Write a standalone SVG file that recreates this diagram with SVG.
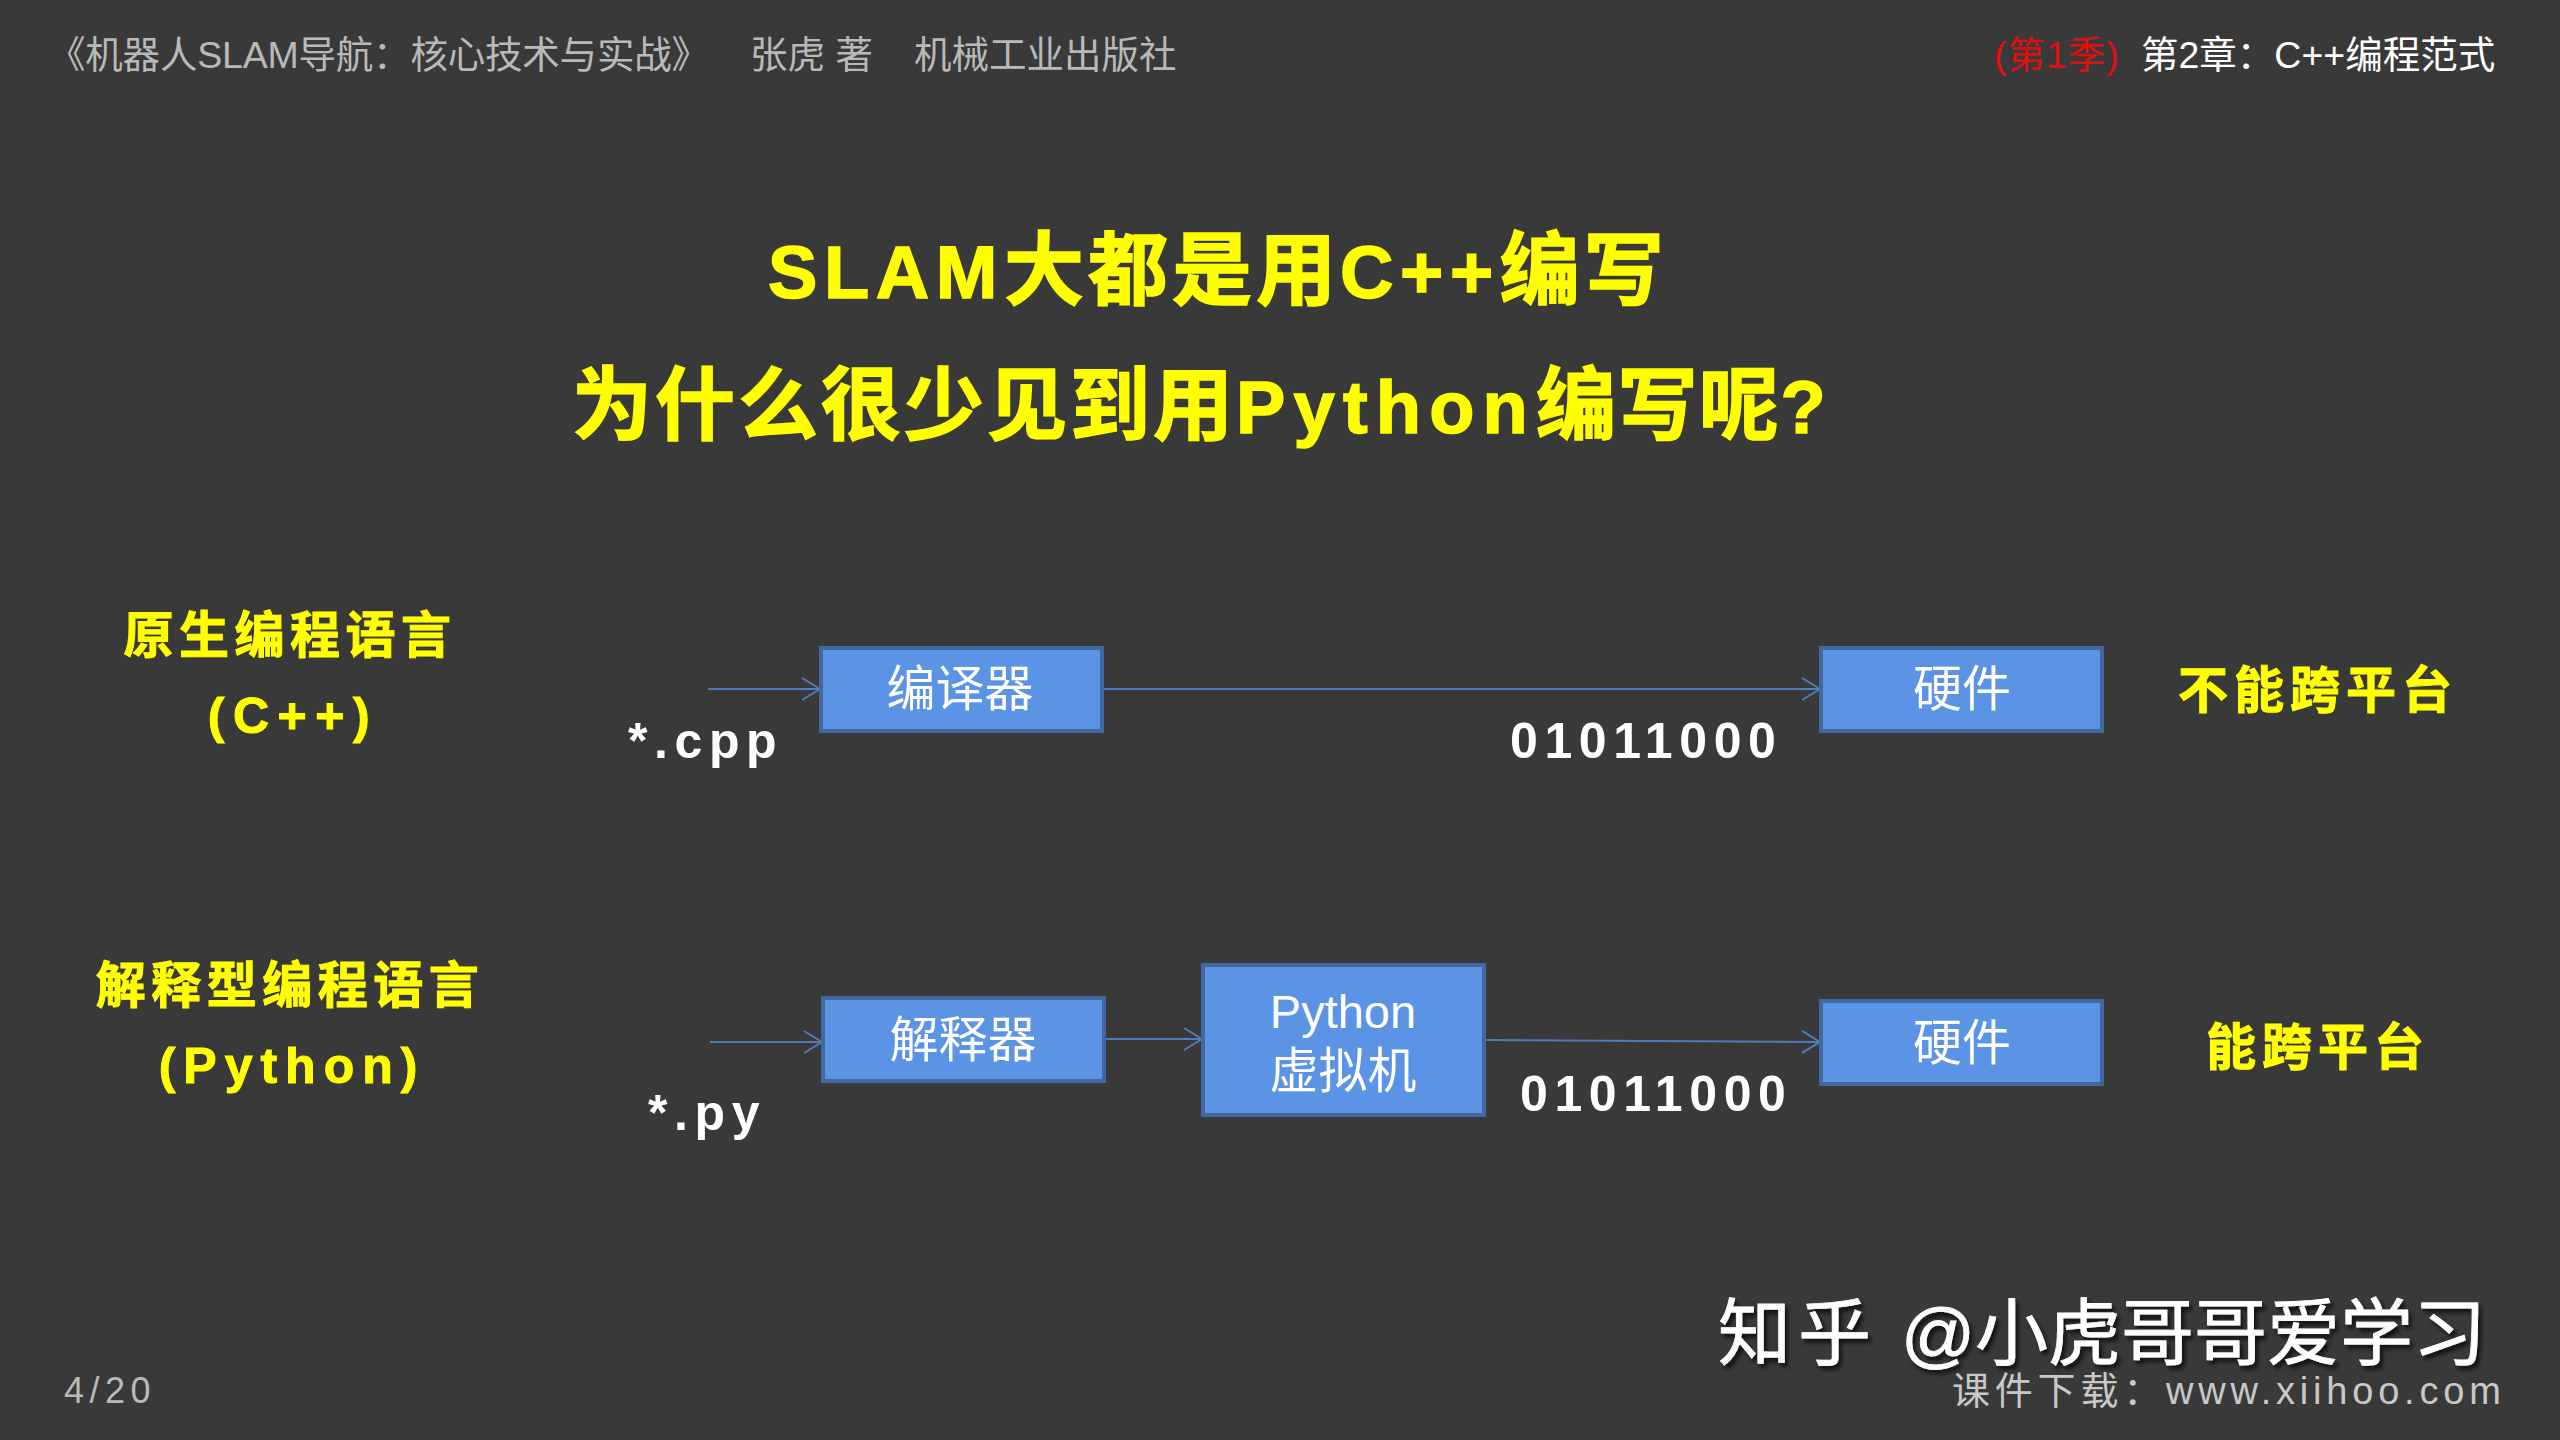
<svg xmlns="http://www.w3.org/2000/svg" width="2560" height="1440" viewBox="0 0 2560 1440">
<style>
text{font-family:"Liberation Sans","Noto Sans CJK SC",sans-serif}
.hd{font-size:37.5px}
.ti{font-size:80px;font-weight:700;fill:#ff0;stroke:#ff0;stroke-width:1.5px;letter-spacing:4px}
.ti .l{font-size:74px;letter-spacing:6.6px}
.la{font-size:50px;font-weight:700;fill:#ff0;stroke:#ff0;stroke-width:1px;letter-spacing:5.5px;text-anchor:middle}
.nd{fill:#5b93e5;stroke:#41689f;stroke-width:4}
.nt{font-size:49px;fill:#fff;text-anchor:middle}
.co{font-size:50px;font-weight:700;fill:#fff;letter-spacing:6.6px}
.cn{fill:none;stroke:#4f7cb8;stroke-width:2}
</style>
<defs>
<marker id="ah" markerUnits="userSpaceOnUse" markerWidth="24" markerHeight="28" refX="20" refY="12" orient="auto" viewBox="0 0 24 24"><path d="M2 1L20 12L2 23" fill="none" stroke="#4f7cb8" stroke-width="2"/></marker>
<filter id="sh" x="-5%" y="-10%" width="110%" height="130%"><feDropShadow dx="3" dy="4" stdDeviation="2" flood-color="#000" flood-opacity=".7"/></filter>
</defs>
<rect width="2560" height="1440" fill="#393939"/>
<text class="hd" x="48" y="68" fill="#b9b9b9" letter-spacing="-.2">《机器人SLAM导航：核心技术与实战》</text>
<text class="hd" x="750" y="68" fill="#b9b9b9">张虎 著</text>
<text class="hd" x="914" y="68" fill="#b9b9b9">机械工业出版社</text>
<text class="hd" x="1994" y="68" fill="#e01010" letter-spacing="1">(第1季)</text>
<text class="hd" x="2141" y="68" fill="#fff">第2章：C++编程范式</text>
<text class="ti" x="768" y="298"><tspan class="l">SLAM</tspan>大都是用<tspan class="l">C++</tspan>编写</text>
<text class="ti" x="572" y="433" style="letter-spacing:3px">为什么很少见到用<tspan class="l" style="letter-spacing:8.2px">Python</tspan><tspan style="letter-spacing:1.5px">编写呢</tspan><tspan class="l">?</tspan></text>
<text class="la" x="290" y="653">原生编程语言</text>
<text class="la" x="293" y="733" style="letter-spacing:8.5px">(C++)</text>
<text class="la" x="290" y="1003">解释型编程语言</text>
<text class="la" x="292" y="1083" style="letter-spacing:8px">(Python)</text>
<g id="connectors">
<path class="cn" d="M708 689H820" marker-end="url(#ah)"/>
<path class="cn" d="M1103 689H1820" marker-end="url(#ah)"/>
<path class="cn" d="M710 1042H822" marker-end="url(#ah)"/>
<path class="cn" d="M1105 1039H1202" marker-end="url(#ah)"/>
<path class="cn" d="M1485 1040L1820 1042" marker-end="url(#ah)"/>
</g>
<g id="n1"><rect class="nd" x="821" y="648" width="281" height="83"/><text class="nt" x="960" y="706">编译器</text></g>
<g id="n2"><rect class="nd" x="1821" y="648" width="281" height="83"/><text class="nt" x="1962" y="706">硬件</text></g>
<g id="n3"><rect class="nd" x="823" y="998" width="281" height="83"/><text class="nt" x="963" y="1057">解释器</text></g>
<g id="n4"><rect class="nd" x="1203" y="965" width="281" height="150"/><text class="nt" x="1343" y="1028" style="font-size:47px">Python</text><text class="nt" x="1343" y="1088">虚拟机</text></g>
<g id="n5"><rect class="nd" x="1821" y="1001" width="281" height="83"/><text class="nt" x="1962" y="1060">硬件</text></g>
<text class="co" x="628" y="758">*.cpp</text>
<text class="co" x="1510" y="758">01011000</text>
<text class="co" x="648" y="1130">*.py</text>
<text class="co" x="1520" y="1111">01011000</text>
<text class="la" x="2318" y="708" style="letter-spacing:6px">不能跨平台</text>
<text class="la" x="2318" y="1065" style="letter-spacing:6px">能跨平台</text>
<text x="64" y="1403" font-size="36" fill="#b9b9b9" letter-spacing="5.5">4/20</text>
<g filter="url(#sh)" fill="#fff" stroke="#fff" stroke-width=".8" font-size="73"><text x="1718" y="1359" letter-spacing="7">知乎</text><text x="1901" y="1359">@小虎哥哥爱学习</text></g>
<text x="1952" y="1404" font-size="38" fill="#c8c8c8" letter-spacing="4.8">课件下载：www.xiihoo.com</text>
</svg>
